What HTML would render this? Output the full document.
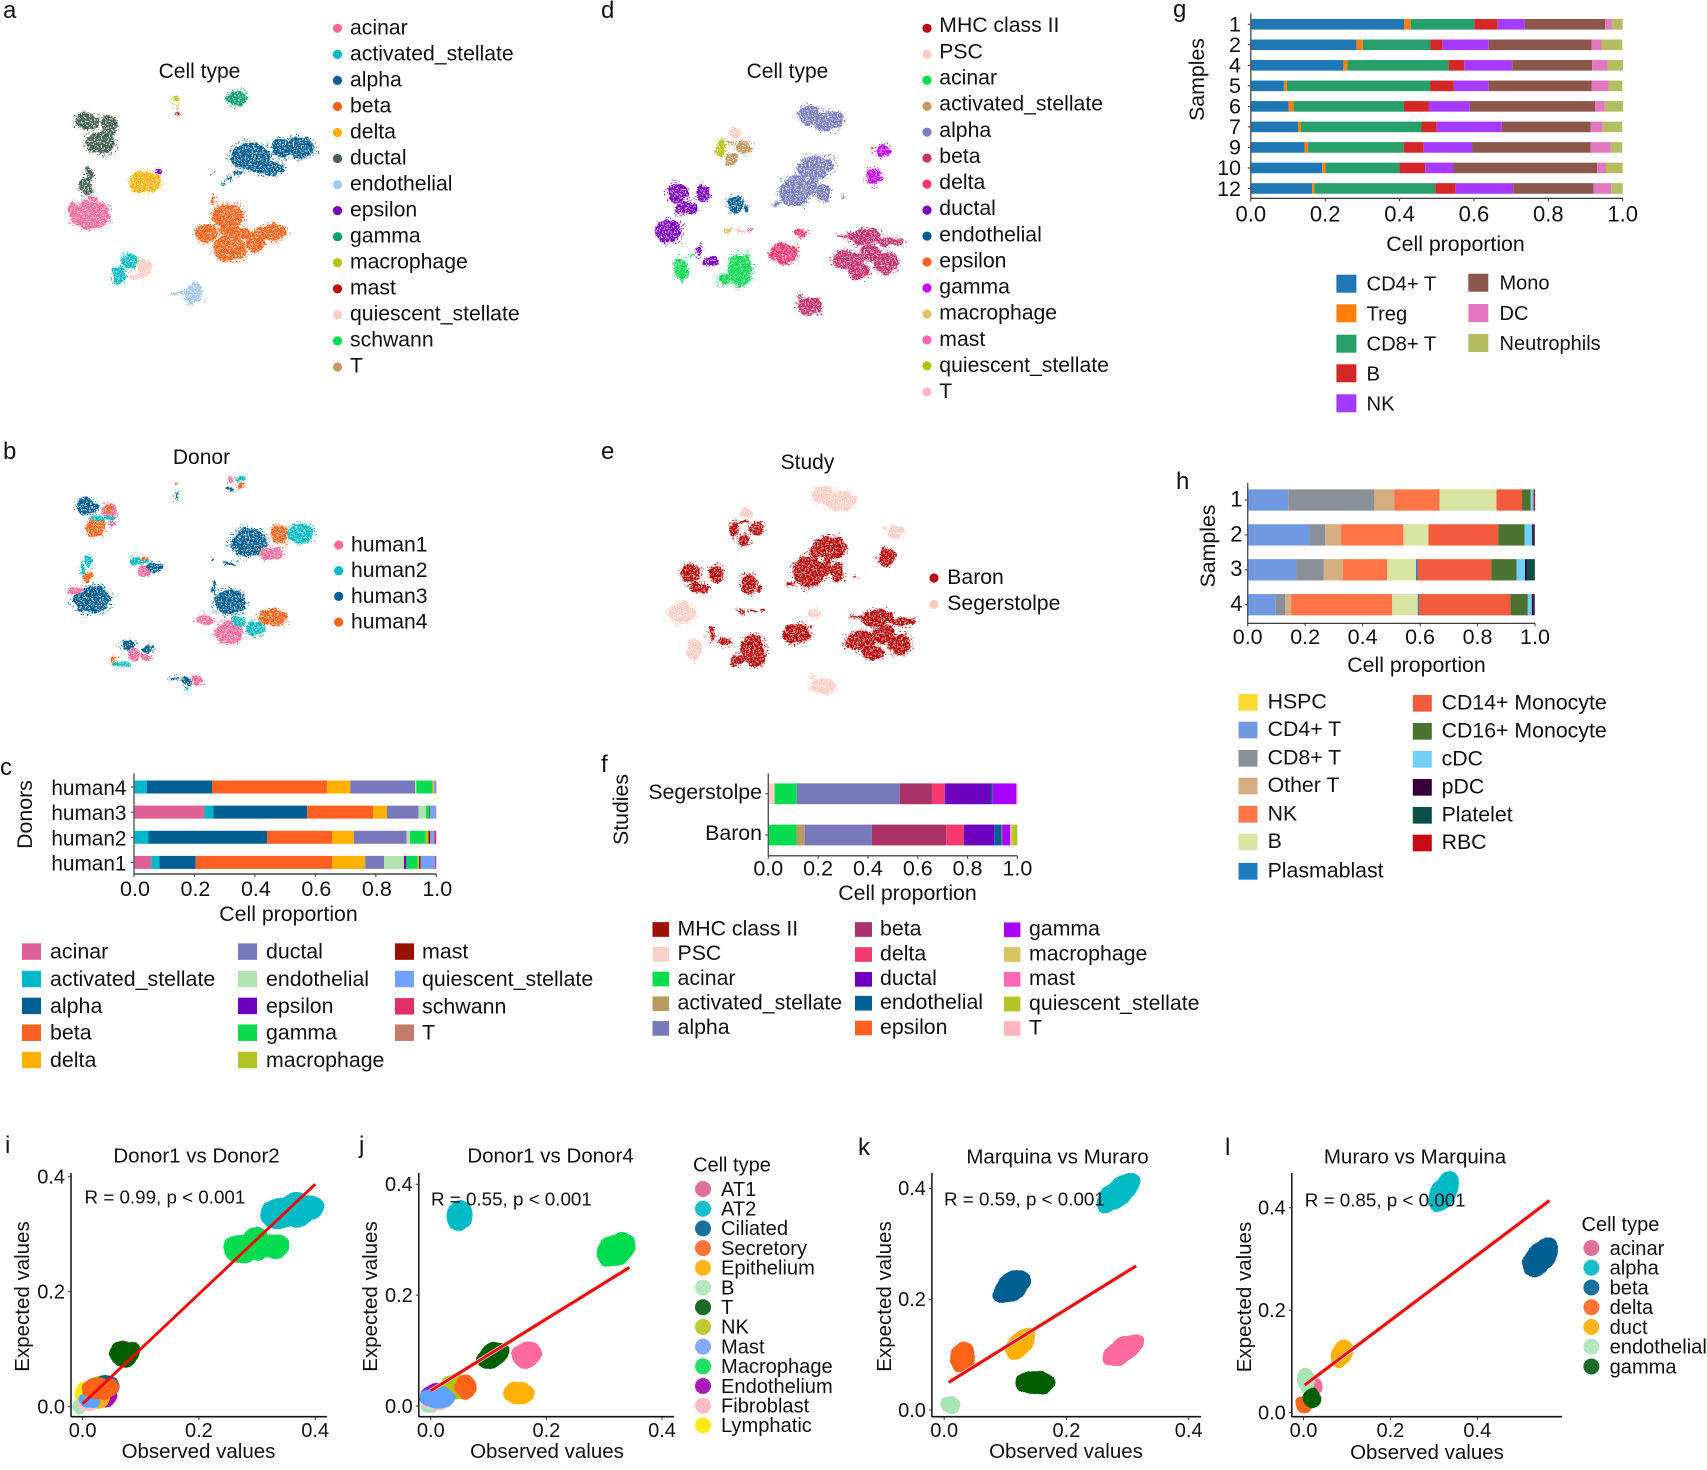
<!DOCTYPE html>
<html lang="en">
<head>
<meta charset="utf-8">
<title>Single-cell composite figure</title>
<style>
html,body{margin:0;padding:0;background:#fff;}
svg{display:block;font-family:"Liberation Sans",sans-serif;}
text{fill:#111;}
.letter{font-size:24px;}
.t{font-size:21px;}
.a{font-size:21.3px;}
</style>
</head>
<body>
<svg id="fig" xmlns="http://www.w3.org/2000/svg" width="1707" height="1470" viewBox="0 0 1707 1470">
<defs>
<filter id="speckle" x="-10%" y="-10%" width="120%" height="120%" color-interpolation-filters="sRGB">
<feTurbulence type="fractalNoise" baseFrequency="0.1" numOctaves="2" seed="4" result="warp"/>
<feDisplacementMap in="SourceGraphic" in2="warp" scale="8" xChannelSelector="R" yChannelSelector="G" result="rough"/>
<feTurbulence type="fractalNoise" baseFrequency="0.75" numOctaves="1" seed="9" result="grain"/>
<feColorMatrix in="grain" type="matrix" values="0 0 0 0 0 0 0 0 0 0 0 0 0 0 0 0 0 0 12 -4.5" result="mask"/>
<feComposite in="rough" in2="mask" operator="in"/>
</filter>
<filter id="sparse" x="-10%" y="-10%" width="120%" height="120%" color-interpolation-filters="sRGB">
<feTurbulence type="fractalNoise" baseFrequency="0.1" numOctaves="2" seed="7" result="warp"/>
<feDisplacementMap in="SourceGraphic" in2="warp" scale="10" xChannelSelector="R" yChannelSelector="G" result="rough"/>
<feTurbulence type="fractalNoise" baseFrequency="0.7" numOctaves="1" seed="21" result="grain"/>
<feColorMatrix in="grain" type="matrix" values="0 0 0 0 0 0 0 0 0 0 0 0 0 0 0 0 0 0 14 -8" result="mask"/>
<feComposite in="rough" in2="mask" operator="in"/>
</filter>
<filter id="lumpy" x="-10%" y="-10%" width="120%" height="120%" color-interpolation-filters="sRGB">
<feTurbulence type="fractalNoise" baseFrequency="0.06" numOctaves="2" seed="2" result="warp"/>
<feDisplacementMap in="SourceGraphic" in2="warp" scale="5" xChannelSelector="R" yChannelSelector="G"/>
</filter>
</defs>
<rect width="1707" height="1470" fill="#fff"/>

<text class="letter" x="3" y="18">a</text>
<text class="letter" x="3" y="459">b</text>
<text class="letter" x="0" y="775">c</text>
<text class="letter" x="601" y="18">d</text>
<text class="letter" x="601" y="459">e</text>
<text class="letter" x="601" y="772">f</text>
<text class="letter" x="1173" y="17">g</text>
<text class="letter" x="1176" y="489">h</text>
<text class="letter" x="5" y="1153">i</text>
<text class="letter" x="359" y="1153">j</text>
<text class="letter" x="858" y="1155">k</text>
<text class="letter" x="1225" y="1155">l</text>

<text class="t" x="199.5" y="78" text-anchor="middle">Cell type</text>
<text class="t" x="201.5" y="464" text-anchor="middle">Donor</text>
<text class="t" x="787.5" y="78" text-anchor="middle">Cell type</text>
<text class="t" x="807.5" y="469" text-anchor="middle">Study</text>

<text class="a" x="288.5" y="921" text-anchor="middle">Cell proportion</text>
<text class="a" transform="translate(32,814.5) rotate(-90)" text-anchor="middle">Donors</text>
<text class="a" x="907.5" y="900" text-anchor="middle">Cell proportion</text>
<text class="a" transform="translate(628,809.5) rotate(-90)" text-anchor="middle">Studies</text>
<text class="a" x="1455.5" y="251" text-anchor="middle">Cell proportion</text>
<text class="a" transform="translate(1204,79.5) rotate(-90)" text-anchor="middle">Samples</text>
<text class="a" x="1416.5" y="672" text-anchor="middle">Cell proportion</text>
<text class="a" transform="translate(1215,546) rotate(-90)" text-anchor="middle">Samples</text>

<text font-size="20.5" x="196.5" y="1162.5" text-anchor="middle">Donor1 vs Donor2</text>
<text font-size="20.5" x="550.5" y="1162.5" text-anchor="middle">Donor1 vs Donor4</text>
<text font-size="20.5" x="1057.5" y="1163.5" text-anchor="middle">Marquina vs Muraro</text>
<text font-size="20.5" x="1415" y="1163.5" text-anchor="middle">Muraro vs Marquina</text>
<text font-size="20.5" x="198.5" y="1458" text-anchor="middle">Observed values</text>
<text font-size="20.5" x="547" y="1458" text-anchor="middle">Observed values</text>
<text font-size="20.5" x="1066" y="1458" text-anchor="middle">Observed values</text>
<text font-size="20.5" x="1427" y="1459" text-anchor="middle">Observed values</text>
<text font-size="20.5" transform="translate(29,1296.5) rotate(-90)" text-anchor="middle">Expected values</text>
<text font-size="20.5" transform="translate(377,1296.5) rotate(-90)" text-anchor="middle">Expected values</text>
<text font-size="20.5" transform="translate(891,1296.5) rotate(-90)" text-anchor="middle">Expected values</text>
<text font-size="20.5" transform="translate(1251,1297) rotate(-90)" text-anchor="middle">Expected values</text>
<text font-size="20" x="693" y="1171.5">Cell type</text>
<text font-size="20" x="1581.5" y="1231">Cell type</text>
</svg>

<script>
// ---------- shared value axes ----------
const proportionTicks = [0, 0.2, 0.4, 0.6, 0.8, 1.0];
const proportionTickLabels = ['0.0', '0.2', '0.4', '0.6', '0.8', '1.0'];

// ---------- panel a: UMAP clusters by cell type [label, u, v, spreadU, spreadV] ----------
const aLabels = ['acinar','activated_stellate','alpha','beta','delta','ductal','endothelial','epsilon','gamma','macrophage','mast','quiescent_stellate','schwann','T'];
const aClusters = [
 ['gamma',618,293,25,22],['macrophage',459,297,9,8],['macrophage',461,318,2,9],['T',462,328,2,5],['mast',464,343,4,7],
 ['ductal',228,362,33,26],['ductal',285,378,23,30],['ductal',262,430,38,32],
 ['ductal',232,525,10,22],['ductal',225,560,17,30],
 ['acinar',238,645,50,42],['acinar',195,628,18,20],['acinar',245,595,14,8],
 ['delta',380,545,42,32],['epsilon',413,513,8,7],
 ['alpha',655,470,52,42],['alpha',700,505,45,20],['alpha',735,445,25,28],['alpha',785,443,37,32],
 ['alpha',585,550,6,6],['alpha',600,535,8,5],['alpha',620,518,12,6],['alpha',555,522,5,2],
 ['beta',595,650,42,38],['beta',540,700,30,25],['beta',600,745,45,38],['beta',668,725,25,32],['beta',712,695,38,25],['beta',558,600,5,15],['beta',600,690,30,20],['beta',635,700,22,15],
 ['activated_stellate',337,785,22,20],['activated_stellate',312,825,20,25],['schwann',358,782,5,4],
 ['quiescent_stellate',378,805,20,28],['quiescent_stellate',352,830,16,8],
 ['endothelial',505,885,25,27],['endothelial',465,880,20,5],['endothelial',515,860,12,10]
];
// ---------- panel b: UMAP clusters by donor [label, u, v, spreadU, spreadV] ----------
const bLabels = ['human1','human2','human3','human4'];
const bClusters = [
 ['human3',225,198,30,18],['human1',285,210,18,15],['human4',285,205,8,8],['human2',255,232,20,12],['human4',250,250,24,20],['human1',292,240,10,8],['human2',285,225,10,6],
 ['human1',605,138,8,6],['human2',628,135,10,6],['human4',628,152,10,6],['human3',600,158,6,4],
 ['human4',460,148,6,4],['human3',462,175,2,10],
 ['human3',650,282,48,32],['human4',730,265,22,22],['human2',785,260,34,24],['human1',710,308,32,14],['human3',600,330,18,3],['human3',555,320,4,2],
 ['human1',375,350,18,12],['human2',365,325,25,8],['human4',378,318,10,6],['human3',405,340,22,10],
 ['human2',232,325,12,15],['human4',228,360,12,10],['human2',215,345,5,12],
 ['human3',240,415,50,32],['human1',200,395,22,10],
 ['human3',600,420,40,30],['human3',558,385,5,15],['human1',600,490,35,28],['human1',535,460,22,12],['human2',668,480,25,18],['human4',712,455,36,18],['human2',625,465,15,10],
 ['human3',335,520,20,12],['human3',385,528,14,8],['human1',382,548,15,8],['human4',297,553,6,8],['human2',320,562,25,6],['human1',350,540,18,12],
 ['human1',515,600,14,12],['human3',488,603,10,10],['human3',455,597,15,3],['human2',488,620,5,3]
];
// ---------- panel d / e: UMAP clusters [label, study, u, v, spreadU, spreadV] ----------
const dLabels = ['MHC class II','PSC','acinar','activated_stellate','alpha','beta','delta','ductal','endothelial','epsilon','gamma','macrophage','mast','quiescent_stellate','T'];
const eLabels = ['Baron','Segerstolpe'];
const dClusters = [
 ['alpha','Segerstolpe',615,345,30,30],['alpha','Segerstolpe',665,362,44,30],
 ['PSC','Segerstolpe',405,400,18,15],
 ['quiescent_stellate','Baron',367,445,14,25],['activated_stellate','Baron',430,442,22,20],['activated_stellate','Baron',395,480,15,18],['activated_stellate','Baron',395,425,15,3],
 ['alpha','Baron',635,500,45,35],['alpha','Baron',600,510,20,25],['alpha','Baron',575,572,45,45],['alpha','Baron',625,555,15,30],['alpha','Baron',655,578,18,28],['alpha','Baron',525,610,12,6],
 ['gamma','Segerstolpe',820,455,22,20],['epsilon','Segerstolpe',786,441,4,5],['gamma','Baron',795,530,22,25],
 ['ductal','Baron',245,578,28,30],['ductal','Baron',315,580,20,25],['ductal','Baron',270,622,28,18],
 ['ductal','Segerstolpe',220,695,35,35],
 ['endothelial','Baron',408,612,22,28],['endothelial','Baron',437,625,5,12],['endothelial','Baron',709,593,3,3],
 ['macrophage','Baron',388,692,10,7],['T','Baron',420,692,15,3],['mast','Baron',447,691,6,4],
 ['delta','Baron',542,760,38,30],['delta','Segerstolpe',590,700,18,14],['epsilon','Baron',583,740,4,5],
 ['beta','Baron',770,710,45,25],['beta','Baron',720,780,42,28],['beta','Baron',755,815,30,22],['beta','Baron',830,790,32,32],['beta','Baron',840,725,38,12],['beta','Baron',785,760,30,25],['beta','Baron',710,708,25,3],
 ['ductal','Baron',305,755,8,20],['ductal','Baron',340,785,20,14],
 ['acinar','Baron',420,810,35,48],['acinar','Baron',378,838,18,18],['acinar','Segerstolpe',255,805,20,30],['acinar','Segerstolpe',285,770,6,3],['acinar','Segerstolpe',258,840,3,10],
 ['beta','Segerstolpe',615,918,35,25],['beta','Segerstolpe',585,890,8,8]
];

// ---------- panel c: stacked proportions ----------
const cCategories = ['human4','human3','human2','human1'];
const cSeriesNames = ['acinar','activated_stellate','alpha','beta','delta','ductal','endothelial','epsilon','gamma','macrophage','mast','quiescent_stellate','schwann','T'];
const cHuman4 = [0,.042,.216,.381,.077,.214,.004,0,.053,.005,0,.006,.002,0];
const cHuman3 = [.233,.029,.311,.218,.046,.104,.025,0,.011,0,.002,.018,.001,.002];
const cHuman2 = [0,.048,.392,.215,.072,.175,.011,0,.052,.009,.006,.013,.007,0];
const cHuman1 = [.057,.027,.120,.451,.110,.062,.066,.008,.037,.005,.005,.048,.004,0];
// ---------- panel f ----------
const fCategories = ['Segerstolpe','Baron'];
const fSeriesNames = ['MHC class II','PSC','acinar','activated_stellate','alpha','beta','delta','ductal','endothelial','epsilon','gamma','macrophage','mast','quiescent_stellate','T'];
const fSegerstolpe = [0,.025,.089,0,.414,.129,.052,.183,.009,0,.094,0,.005,0,0];
const fBaron = [0,0,.113,.033,.270,.298,.071,.122,.030,.002,.032,.006,.002,.021,0];
// ---------- panel g ----------
const gCategories = ['1','2','4','5','6','7','9','10','12'];
const gSeriesNames = ['CD4+ T','Treg','CD8+ T','B','NK','Mono','DC','Neutrophils'];
const gSample1 = [.412,.018,.171,.063,.073,.216,.018,.029];
const gSample2 = [.284,.017,.182,.032,.125,.276,.027,.056];
const gSample4 = [.249,.011,.272,.042,.129,.215,.041,.042];
const gSample5 = [.089,.008,.385,.064,.094,.277,.045,.037];
const gSample6 = [.102,.013,.297,.067,.110,.337,.026,.049];
const gSample7 = [.127,.008,.324,.041,.175,.239,.032,.053];
const gSample9 = [.145,.009,.257,.054,.131,.318,.054,.031];
const gSample10 = [.192,.009,.199,.069,.076,.386,.024,.045];
const gSample12 = [.165,.006,.325,.055,.155,.216,.047,.031];
// ---------- panel h ----------
const hCategories = ['1','2','3','4'];
const hSeriesNames = ['HSPC','CD4+ T','CD8+ T','Other T','NK','B','Plasmablast','CD14+ Monocyte','CD16+ Monocyte','cDC','pDC','Platelet','RBC'];
const hSample1 = [0,.141,.300,.070,.157,.198,0,.089,.030,.010,0,0,.005];
const hSample2 = [0,.215,.055,.055,.217,.087,0,.243,.092,.026,.006,.003,.001];
const hSample3 = [0,.170,.095,.066,.155,.100,.005,.257,.088,.029,.007,.027,.001];
const hSample4 = [0,.098,.033,.020,.352,.089,.004,.319,.060,.014,.007,.003,.001];

// ---------- panels i-l: [type, observed, expected, spreadObs, spreadExp, tilt] ----------
const ijLegendLabels = ['AT1','AT2','Ciliated','Secretory','Epithelium','B','T','NK','Mast','Macrophage','Endothelium','Fibroblast','Lymphatic'];
const lLegendLabels = ['acinar','alpha','beta','delta','duct','endothelial','gamma'];
const scatterTicks = [0, 0.2, 0.4];
const scatterTickLabels = ['0.0', '0.2', '0.4'];
const iPoints = [
 ['AT2',.338,.336,.033,.026,-8],['AT2',.3685,.342,.033,.029,0],['AT2',.3916,.347,.024,.022,0],
 ['Macrophage',.2726,.2736,.031,.025,0],['Macrophage',.2994,.284,.025,.029,-20],['Macrophage',.33,.278,.026,.023,0],
 ['AT1',.0714,.104,.016,.012,0],['T',.0714,.0916,.026,.023,0],['T',.08,.097,.019,.017,0],
 ['Endothelium',.036,.0174,.023,.017,0],['Lymphatic',.0077,.023,.02,.022,0],['Epithelium',.023,.02,.024,.022,0],
 ['B',-.004,0,.012,.0135,0],['Fibroblast',.0077,.0046,.016,.013,0],['Mast',.0115,.0116,.018,.0135,0],
 ['NK',.0307,.0348,.023,.019,0],['Ciliated',.0407,.036,.022,.0205,0],['Secretory',.0284,.0319,.03,.019,0],['Secretory',.046,.0348,.016,.016,0]
];
const iLineObs = [0, 0.4];
const iLineExp = [0.005, 0.387];
const jPoints = [
 ['AT2',.0502,.343,.023,.028,0],['Macrophage',.3205,.2815,.037,.027,-30],['T',.108,.092,.031,.021,-28],['AT1',.166,.093,.026,.024,-15],['Epithelium',.153,.023,.027,.021,0],
 ['Ciliated',.046,.041,.018,.016,0],['Endothelium',.0077,.017,.025,.024,0],['Lymphatic',.015,.014,.022,.017,0],['B',-.002,-.004,.013,.01,0],['Fibroblast',.01,.002,.024,.01,0],
 ['NK',.0425,.035,.024,.024,0],['Mast',.0116,.015,.03,.02,0],['Secretory',.0595,.033,.019,.022,0]
];
const jLineObs = [0, 0.3436];
const jLineExp = [0.0277, 0.25];
const kPoints = [
 ['AT2',.284,.391,.021,.047,50],['Ciliated',.111,.2226,.023,.038,50],['Epithelium',.125,.12,.018,.034,45],['AT1',.292,.107,.02,.042,60],
 ['Secretory',.03,.095,.02,.029,10],['T',.1485,.049,.032,.022,0],['B',.0106,.009,.016,.016,0]
];
const kLineObs = [0.0074, 0.314];
const kLineExp = [0.05, 0.26];
const lPoints = [
 ['alpha',.3224,.431,.03,.043,30],['beta',.546,.304,.032,.045,40],['duct',.088,.116,.023,.029,25],['acinar',.021,.05,.024,.020,0],
 ['endothelial',.006,.064,.020,.025,0],['delta',-.001,.015,.018,.018,0],['gamma',.019,.028,.022,.021,0]
];
const lLineObs = [0.003, 0.566];
const lLineExp = [0.054, 0.4137];

// ---------- colour lookups (style only) ----------
const aColors = {acinar:'#fb6a9a',activated_stellate:'#00bac6',alpha:'#005f92',beta:'#ff6319',delta:'#ffb000',ductal:'#466251',endothelial:'#a6c8ec',epsilon:'#7c00c0',gamma:'#00a06a',macrophage:'#b3c300',mast:'#bb0a0a',quiescent_stellate:'#ffccc4',schwann:'#00dc50',T:'#c49a60'};
const bColors = {human1:'#fb6a9a',human2:'#00bac6',human3:'#005f92',human4:'#ff6319'};
const dColors = {'MHC class II':'#bb0a0a',PSC:'#ffccc4',acinar:'#00dc50',activated_stellate:'#c49a60',alpha:'#7b7fc4',beta:'#c8326e',delta:'#ff3570',ductal:'#7c00c0',endothelial:'#005f92',epsilon:'#ff6319',gamma:'#c800ff',macrophage:'#e0c45f',mast:'#ff69b4',quiescent_stellate:'#b3c300',T:'#ffb6c1'};
const eColors = {Baron:'#bb0a0a',Segerstolpe:'#ffccc4'};
const cColors = {acinar:'#df6295',activated_stellate:'#00b8c8',alpha:'#005f92',beta:'#ff6020',delta:'#ffb000',ductal:'#7878bc',endothelial:'#b2e2b0',epsilon:'#6e00c0',gamma:'#0adc50',macrophage:'#b4c426',mast:'#9a1000',quiescent_stellate:'#74a0ff',schwann:'#df3068',T:'#c57b6a'};
const fColors = {'MHC class II':'#9e1000',PSC:'#f5cfc8',acinar:'#0adc50',activated_stellate:'#b89a62',alpha:'#7878bc',beta:'#a93268',delta:'#f53a70',ductal:'#6c00be',endothelial:'#006094',epsilon:'#ff6020',gamma:'#aa00ff',macrophage:'#d8c460',mast:'#ff69b4',quiescent_stellate:'#b4c426',T:'#ffb6c1'};
const gColors = {'CD4+ T':'#1f77b4',Treg:'#ff7f0e','CD8+ T':'#279f6b',B:'#d62728',NK:'#a63aff',Mono:'#8c564b',DC:'#e377c2',Neutrophils:'#b5bd61'};
const hColors = {HSPC:'#ffd735','CD4+ T':'#7099e2','CD8+ T':'#8a9098','Other T':'#d2ae80',NK:'#ff7548',B:'#d8e4a2',Plasmablast:'#1a7ec0','CD14+ Monocyte':'#f25c3c','CD16+ Monocyte':'#4a7230',cDC:'#6fd0f8',pDC:'#36003a',Platelet:'#0a5048',RBC:'#c80a14'};
const ptColors = {AT1:'#ff6a9e',AT2:'#00bac6',Ciliated:'#005f92',Secretory:'#ff6319',Epithelium:'#ffb000',B:'#a8e4b4',T:'#005f00',NK:'#b3c300',Mast:'#60a0ff',Macrophage:'#00dc50',Endothelium:'#a800c0',Fibroblast:'#ffc0cb',Lymphatic:'#ffe600',acinar:'#ff6a9e',alpha:'#00bac6',beta:'#005f92',delta:'#ff6319',duct:'#ffb000',endothelial:'#a8e4b4',gamma:'#005f00'};
const ptLegendColors = {AT1:'#e0709a',AT2:'#19becb',Ciliated:'#1a6f9c',Secretory:'#ff7336',Epithelium:'#ffb51f',B:'#b5e6bd',T:'#196b26',NK:'#bec936',Mast:'#84a9ff',Macrophage:'#21de65',Endothelium:'#a81dba',Fibroblast:'#ffbcc8',Lymphatic:'#ffeb1a',acinar:'#e0709a',alpha:'#19becb',beta:'#1a6f9c',delta:'#ff7336',duct:'#ffb51f',endothelial:'#b5e6bd',gamma:'#196b26'};

// ---------- drawing helpers ----------
const NS = 'http://www.w3.org/2000/svg';
const fig = document.getElementById('fig');
function linear(d0, d1, r0, r1) { return v => r0 + (v - d0) * (r1 - r0) / (d1 - d0); }
function slug(s) { return String(s).toLowerCase().replace(/[^a-z0-9]+/g, '-').replace(/^-|-$/g, ''); }
function shape(parent, tag, name, props) {
  const el = document.createElementNS(NS, tag);
  
  
  for (const k in props) el.setAttribute(k, props[k]);
  parent.appendChild(el);
  return el;
}
function label(parent, name, str, x, y, size, anchor) {
  const el = shape(parent, 'text', name, {x: x, y: y, 'font-size': size, 'text-anchor': anchor || 'start'});
  el.textContent = str;
  return el;
}
function group(name, extra) { return shape(fig, 'g', name, extra || {}); }

function drawClusters(name, rows, xOf, yOf, acc) {
  const halo = group(name + '-loose-points', {filter: 'url(#sparse)'});
  const core = group(name, {filter: 'url(#speckle)'});
  rows.forEach(r => {
    const cx = xOf(acc.u(r)), cy = yOf(acc.v(r));
    const rx = Math.abs(xOf(acc.u(r) + acc.su(r)) - cx), ry = Math.abs(yOf(acc.v(r) + acc.sv(r)) - cy);
    shape(halo, 'ellipse', 'cluster-halo-' + slug(acc.key(r)), {cx: cx, cy: cy, rx: rx * 1.14 + 1, ry: ry * 1.14 + 1, fill: acc.fill(r)});
    shape(core, 'ellipse', 'cluster-' + slug(acc.key(r)), {cx: cx, cy: cy, rx: rx, ry: ry, fill: acc.fill(r)});
  });
}
function dotLegend(name, labels, colors, x, y0, dy, textX, radius, size, textY0, textDy) {
  const g = group(name);
  labels.forEach((t, i) => {
    shape(g, 'circle', 'legend-marker-' + slug(t), {cx: x, cy: y0 + i * dy, r: radius, fill: colors[t]});
    label(g, 'legend-label-' + slug(t), t, textX, textY0 + i * textDy, size);
  });
}
function swatchLegend(name, labels, colors, x, w, h, ys, textX, size, base) {
  const g = group(name);
  labels.forEach((t, i) => {
    shape(g, 'rect', 'legend-swatch-' + slug(t), {x: x, y: ys[i] - h / 2, width: w, height: h, fill: colors[t]});
    label(g, 'legend-label-' + slug(t), t, textX, ys[i] + base, size);
  });
}
function stackedBars(cfg) {
  const g = group(cfg.name);
  const x = linear(0, 1, cfg.x0, cfg.x1);
  const rowY = i => cfg.firstCenter + i * cfg.band;
  cfg.rows.forEach((vals, i) => {
    let acc = 0;
    vals.forEach((v, j) => {
      if (v > 0) {
        shape(g, 'rect', 'bar-' + slug(cfg.categories[i]) + '-' + slug(cfg.series[j]), {
          x: x(acc), y: rowY(i) - cfg.barH / 2, width: x(acc + v) - x(acc), height: cfg.barH, fill: cfg.colors[cfg.series[j]]
        });
      }
      acc += v;
    });
    shape(g, 'line', 'y-tick-' + slug(cfg.categories[i]), {x1: cfg.x0 - 3, x2: cfg.x0, y1: rowY(i), y2: rowY(i), stroke: '#333', 'stroke-width': 1});
    label(g, 'y-label-' + slug(cfg.categories[i]), cfg.categories[i], cfg.labelX, rowY(i) + cfg.labelBase, cfg.labelFont, 'end');
  });
  shape(g, 'line', 'y-axis', {x1: cfg.x0, x2: cfg.x0, y1: cfg.top, y2: cfg.bottom, stroke: '#555', 'stroke-width': 1.4});
  shape(g, 'line', 'x-axis', {x1: cfg.x0, x2: cfg.x1, y1: cfg.bottom, y2: cfg.bottom, stroke: '#222', 'stroke-width': 1.2});
  proportionTicks.forEach((t, i) => {
    shape(g, 'line', 'x-tick-' + slug(proportionTickLabels[i]), {x1: x(t), x2: x(t), y1: cfg.bottom, y2: cfg.bottom + 3, stroke: '#333', 'stroke-width': 1});
    label(g, 'x-label-' + slug(proportionTickLabels[i]), proportionTickLabels[i], x(t) + cfg.tickShift, cfg.tickBase, cfg.tickFont, 'middle');
  });
}
function scatter(cfg) {
  const g = group(cfg.name);
  const x = linear(0, 0.4, cfg.x0, cfg.x4);
  const y = linear(0, 0.4, cfg.y0, cfg.y4);
  const blobs = shape(g, 'g', cfg.name + '-points', {filter: 'url(#lumpy)'});
  cfg.points.forEach(p => {
    const cx = x(p[1]), cy = y(p[2]);
    shape(blobs, 'ellipse', 'point-cloud-' + slug(p[0]), {
      cx: cx, cy: cy, rx: Math.abs(x(p[1] + p[3]) - cx), ry: Math.abs(y(p[2] + p[4]) - cy),
      fill: ptColors[p[0]], transform: 'rotate(' + p[5] + ' ' + cx + ' ' + cy + ')'
    });
  });
  const lx1 = x(cfg.lineObs[0]), lx2 = x(cfg.lineObs[1]), ly1 = y(cfg.lineExp[0]), ly2 = y(cfg.lineExp[1]);
  if (cfg.band) shape(g, 'line', 'regression-band', {x1: lx1, y1: ly1, x2: lx2, y2: ly2, stroke: '#ccc', 'stroke-width': 4.5});
  shape(g, 'line', 'regression-line', {x1: lx1, y1: ly1, x2: lx2, y2: ly2, stroke: '#f00', 'stroke-width': 2.8});
  shape(g, 'line', 'y-axis', {x1: cfg.axisX, x2: cfg.axisX, y1: 1173, y2: 1417, stroke: '#111', 'stroke-width': 1.5});
  shape(g, 'line', 'x-axis', {x1: cfg.axisX, x2: cfg.axisRight, y1: 1416.7, y2: 1416.7, stroke: '#111', 'stroke-width': 1.6});
  scatterTicks.forEach((t, i) => {
    shape(g, 'line', 'x-tick-' + slug(scatterTickLabels[i]), {x1: x(t), x2: x(t), y1: 1417, y2: 1420, stroke: '#333', 'stroke-width': 1});
    label(g, 'x-label-' + slug(scatterTickLabels[i]), scatterTickLabels[i], x(t), 1437, 20, 'middle');
    shape(g, 'line', 'y-tick-' + slug(scatterTickLabels[i]), {x1: cfg.axisX - 3, x2: cfg.axisX, y1: y(t), y2: y(t), stroke: '#333', 'stroke-width': 1});
    label(g, 'y-label-' + slug(scatterTickLabels[i]), scatterTickLabels[i], cfg.axisX - 6, y(t) + 6.8, 20, 'end');
  });
  label(g, 'correlation-annotation', cfg.note, cfg.noteX, cfg.noteY, 18.8);
}

// ---------- UMAP panels ----------
const plainAcc = {key: r => r[0], u: r => r[1], v: r => r[2], su: r => r[3], sv: r => r[4]};
drawClusters('umap-a-cell-type', aClusters, linear(0, 2613, 0, 1000), linear(0, 3000, 0, 1000),
  Object.assign({fill: r => aColors[r[0]]}, plainAcc));
drawClusters('umap-b-donor', bClusters, linear(0, 2613, 0, 1000), linear(0, 2306, 420, 1420),
  Object.assign({fill: r => bColors[r[0]]}, plainAcc));
const studyAcc = {u: r => r[2], v: r => r[3], su: r => r[4], sv: r => r[5]};
drawClusters('umap-d-cell-type', dClusters, linear(0, 2800, 590, 1590), linear(0, 3000, 0, 1000),
  Object.assign({key: r => r[0], fill: r => dColors[r[0]]}, studyAcc));
drawClusters('umap-e-study', dClusters, linear(0, 2800, 603, 1603), linear(0, 3000, 380.7, 1380.7),
  Object.assign({key: r => r[1], fill: r => eColors[r[1]]}, studyAcc));

dotLegend('umap-a-legend', aLabels, aColors, 337.5, 28.3, 26.05, 350, 4.6, 21.2, 34.3, 26.03);
dotLegend('umap-b-legend', bLabels, bColors, 338.7, 545, 25.7, 351, 4.6, 21.2, 551.5, 25.7);
dotLegend('umap-d-legend', dLabels, dColors, 927, 28.3, 25.97, 939.3, 4.6, 21.2, 32.2, 26.14);
dotLegend('umap-e-legend', eLabels, eColors, 934, 578, 26.3, 947.3, 4.6, 21.2, 583.8, 26.3);

// ---------- bar panels ----------
stackedBars({name: 'bar-chart-c', categories: cCategories, series: cSeriesNames, colors: cColors,
  rows: [cHuman4, cHuman3, cHuman2, cHuman1], x0: 134, x1: 436.3, firstCenter: 787, band: 25.13, barH: 13, top: 773.4, bottom: 874, labelX: 126.5, labelBase: 8, labelFont: 20.8, tickBase: 896, tickFont: 21.5, tickShift: 1});
stackedBars({name: 'bar-chart-f', categories: fCategories, series: fSeriesNames, colors: fColors,
  rows: [fSegerstolpe, fBaron], x0: 768.3, x1: 1017.4, firstCenter: 793.8, band: 41.2, barH: 20.8, top: 773.4, bottom: 855.8, labelX: 762, labelBase: 5, labelFont: 21.3, tickBase: 875.5, tickFont: 21.5, tickShift: 0});
stackedBars({name: 'bar-chart-g', categories: gCategories, series: gSeriesNames, colors: gColors,
  rows: [gSample1, gSample2, gSample4, gSample5, gSample6, gSample7, gSample9, gSample10, gSample12], x0: 1250.8, x1: 1622.7, firstCenter: 24.3, band: 20.52, barH: 10.6, top: 13.3, bottom: 198.3, labelX: 1241, labelBase: 7.3, labelFont: 21.5, tickBase: 221.7, tickFont: 22, tickShift: 0});
stackedBars({name: 'bar-chart-h', categories: hCategories, series: hSeriesNames, colors: hColors,
  rows: [hSample1, hSample2, hSample3, hSample4], x0: 1247.7, x1: 1535, firstCenter: 500, band: 34.9, barH: 21.3, top: 482.7, bottom: 623.3, labelX: 1242.5, labelBase: 6.4, labelFont: 22, tickBase: 644, tickFont: 21.5, tickShift: 0});

swatchLegend('bar-c-legend-1', cSeriesNames.slice(0, 5), cColors, 22, 19, 16.5, [951.6, 979, 1005.9, 1032.7, 1060], 50, 21.4, 7);
swatchLegend('bar-c-legend-2', cSeriesNames.slice(5, 10), cColors, 238, 19, 16.5, [951.6, 979, 1005.9, 1032.7, 1060], 266, 21.3, 7);
swatchLegend('bar-c-legend-3', cSeriesNames.slice(10), cColors, 395, 19, 16.5, [951.6, 979, 1006.3, 1032.7], 422, 21.4, 7);
swatchLegend('bar-f-legend-1', fSeriesNames.slice(0, 5), fColors, 652.5, 16.6, 14.7, [929.5, 954.3, 979, 1003.7, 1028.4], 677.5, 21.3, 5.8);
swatchLegend('bar-f-legend-2', fSeriesNames.slice(5, 10), fColors, 855, 17, 14.7, [929.5, 954.5, 979.3, 1003.2, 1028], 880, 21.3, 5.8);
swatchLegend('bar-f-legend-3', fSeriesNames.slice(10), fColors, 1004, 16.4, 14.7, [929.8, 954.5, 979.3, 1004, 1028.5], 1029, 21.3, 5.8);
swatchLegend('bar-g-legend-1', gSeriesNames.slice(0, 5), gColors, 1336.4, 20, 18, [283.7, 313.3, 343.7, 373.3, 403.3], 1366.5, 20.2, 7);
swatchLegend('bar-g-legend-2', gSeriesNames.slice(5), gColors, 1468.3, 20, 18, [282.7, 313, 343], 1499.5, 20, 7);
swatchLegend('bar-h-legend-1', hSeriesNames.slice(0, 7), hColors, 1238.5, 19, 16.7, [702.3, 730, 758.3, 786, 814.3, 842, 871.3], 1267.6, 21.3, 6);
swatchLegend('bar-h-legend-2', hSeriesNames.slice(7), hColors, 1412.8, 19, 16.7, [703.3, 731.3, 759.3, 787.3, 815.3, 843], 1441.6, 21.3, 6);

// ---------- scatter panels ----------
scatter({name: 'scatter-i', points: iPoints, lineObs: iLineObs, lineExp: iLineExp, x0: 82.6, x4: 315.2, y0: 1406.7, y4: 1176.7, axisX: 71, axisRight: 326.8, note: 'R = 0.99, p < 0.001', noteX: 84.5, noteY: 1203.5, band: false});
scatter({name: 'scatter-j', points: jPoints, lineObs: jLineObs, lineExp: jLineExp, x0: 430.8, x4: 662, y0: 1406, y4: 1184.3, axisX: 418.8, axisRight: 674, note: 'R = 0.55, p < 0.001', noteX: 431, noteY: 1205.5, band: true});
scatter({name: 'scatter-k', points: kPoints, lineObs: kLineObs, lineExp: kLineExp, x0: 944.2, x4: 1188.7, y0: 1410, y4: 1188.3, axisX: 931.9, axisRight: 1201, note: 'R = 0.59, p < 0.001', noteX: 944, noteY: 1205.5, band: true});
scatter({name: 'scatter-l', points: lPoints, lineObs: lLineObs, lineExp: lLineExp, x0: 1303.5, x4: 1477.3, y0: 1412.7, y4: 1207.7, axisX: 1291.8, axisRight: 1562, note: 'R = 0.85, p < 0.001', noteX: 1304.8, noteY: 1206.7, band: true});

dotLegend('scatter-j-legend', ijLegendLabels, ptLegendColors, 703, 1189, 19.7, 721, 8, 20.1, 1195.8, 19.7);
dotLegend('scatter-l-legend', lLegendLabels, ptLegendColors, 1591.4, 1248, 19.75, 1609.6, 8, 20.1, 1254.8, 19.75);
</script>
</body>
</html>
